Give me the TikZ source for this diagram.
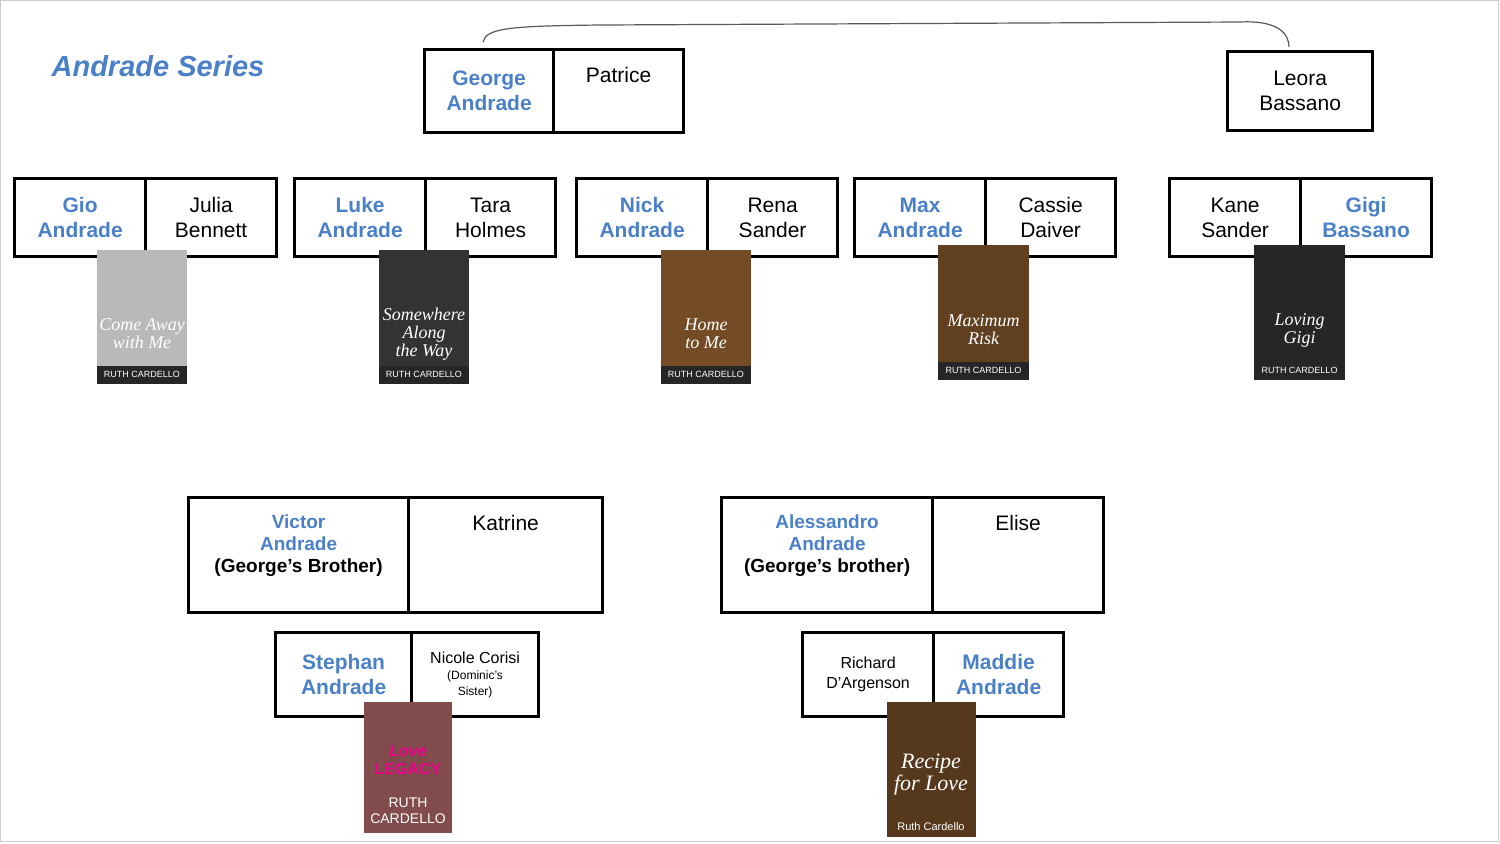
\documentclass[tikz,border=0pt]{standalone}
\usepackage{fontspec}
\setmainfont{Liberation Sans}
\newfontfamily\coverfont{Liberation Serif}
\begin{document}
\begin{tikzpicture}[x=0.5pt,y=-0.5pt]
\definecolor{sblue}{HTML}{4A80C8}
\tikzset{
 pbox/.style={draw,line width=1.6pt,inner sep=0pt},
 ctitle/.style={text=white,font=\coverfont\itshape\fontsize{9}{9}\selectfont,align=center},
 cauth/.style={text=white,font=\fontsize{4.5}{5}\selectfont}
}
\useasboundingbox (0,0) rectangle (1500,843);
\draw[gray!40] (0,0) rectangle (1498,841);
\node[text=sblue,font=\bfseries\itshape\fontsize{14.5}{16}\selectfont] (title) at (158,66) {Andrade Series};
\newcommand{\pb}[7][\fontsize{10.5}{12.5}\selectfont]{\node[pbox,minimum width={(#4-#2)*0.5pt},minimum height={(#5-#3)*0.5pt},anchor=north west] (#2x#3) at (#2,#3) {}; \node[align=center,font=#1] (#7) at (#2x#3.center) {#6};}
\newcommand{\pbt}[7][\fontsize{10.5}{12.5}\selectfont]{\node[pbox,minimum width={(#4-#2)*0.5pt},minimum height={(#5-#3)*0.5pt},anchor=north west] (#2x#3) at (#2,#3) {}; \node[align=center,anchor=north,font=#1] (#7) at ([yshift=-6pt]#2x#3.north) {#6};}
\newcommand{\B}[1]{\textcolor{sblue}{\bfseries #1}}
\pb{423}{48}{552}{131}{\B{George}\\\B{Andrade}}{george}
\pbt[\fontsize{10.5}{12.5}\selectfont]{552}{48}{682}{131}{Patrice}{patrice}
\pb{1226}{50}{1371}{129}{Leora\\Bassano}{leora}
\pb{13}{177}{144}{255}{\B{Gio}\\\B{Andrade}}{gio}
\pb{144}{177}{275}{255}{Julia\\Bennett}{julia}
\pb{293}{177}{424}{255}{\B{Luke}\\\B{Andrade}}{luke}
\pb{424}{177}{554}{255}{Tara\\Holmes}{tara}
\pb{575}{177}{706}{255}{\B{Nick}\\\B{Andrade}}{nick}
\pb{706}{177}{836}{255}{Rena\\Sander}{rena}
\pb{853}{177}{984}{255}{\B{Max}\\\B{Andrade}}{max}
\pb{984}{177}{1114}{255}{Cassie\\Daiver}{cassie}
\pb{1168}{177}{1299}{255}{Kane\\Sander}{kane}
\pb{1299}{177}{1430}{255}{\B{Gigi}\\\B{Bassano}}{gigi}
\pbt[\fontsize{9.5}{11}\selectfont]{187}{496}{407}{611}{\B{Victor}\\\B{Andrade}\\\bfseries (George’s Brother)}{victor}
\pbt{407}{496}{601}{611}{Katrine}{katrine}
\pbt[\fontsize{9.5}{11}\selectfont]{720}{496}{931}{611}{\B{Alessandro}\\\B{Andrade}\\\bfseries (George’s brother)}{aless}
\pbt{931}{496}{1102}{611}{Elise}{elise}
\pb{274}{631}{410}{715}{\B{Stephan}\\\B{Andrade}}{stephan}
\node[pbox,minimum width=63.5pt,minimum height=42pt,anchor=north west] (nicbox) at (410,631) {};
\node[align=center,font=\fontsize{6}{8}\selectfont] (nicole) at (nicbox.center) {{\fontsize{8}{8}\selectfont Nicole Corisi}\\(Dominic’s\\Sister)};
\pb[\fontsize{8}{10}\selectfont]{801}{631}{932}{715}{Richard\\D’Argenson}{richard}
\pb{932}{631}{1062}{715}{\B{Maddie}\\\B{Andrade}}{maddie}
% covers
\newcommand{\cv}[7]{\fill[#6] (#2,#3) rectangle (#4,#5); \fill[black!85] (#2,{#5-18}) rectangle (#4,#5);
 \node[ctitle] (#1) at ({(#2+#4)/2},{#5-50}) {#7};
 \node[cauth] (#1a) at ({(#2+#4)/2},{#5-10}) {RUTH CARDELLO};}
\cv{c1}{97}{250}{187}{384}{gray!55}{Come Away\\with Me}
\cv{c2}{379}{250}{469}{384}{black!80}{Somewhere\\Along\\the Way}
\cv{c3}{661}{250}{751}{384}{brown!60!black}{Home\\to Me}
\cv{c4}{938}{245}{1029}{380}{brown!50!black}{Maximum\\Risk}
\cv{c5}{1254}{245}{1345}{380}{black!85}{Loving\\Gigi}
\fill[red!30!black!70] (364,702) rectangle (452,833);
\node[text=magenta,font=\bfseries\fontsize{8}{9}\selectfont,align=center] (c6) at (408,760) {\textit{Love}\\LEGACY};
\node[text=white,font=\fontsize{7}{8}\selectfont,align=center] (c6a) at (408,811) {RUTH\\CARDELLO};
\fill[brown!45!black] (887,702) rectangle (976,837);
\node[ctitle,font=\coverfont\itshape\fontsize{11}{11}\selectfont] (c7) at (931,775) {Recipe\\for Love};
\node[text=white,font=\fontsize{5.5}{6}\selectfont] (c7a) at (931,827) {Ruth Cardello};
% connector
\coordinate (ca) at (483,42);
\coordinate (cb) at (1289,47);
\draw[gray!70!black,line width=0.6pt] (ca) .. controls (486,28) and (510,26) .. (600,25) -- (1240,22) .. controls (1280,20) and (1289,35) .. (cb);
\end{tikzpicture}
\end{document}
